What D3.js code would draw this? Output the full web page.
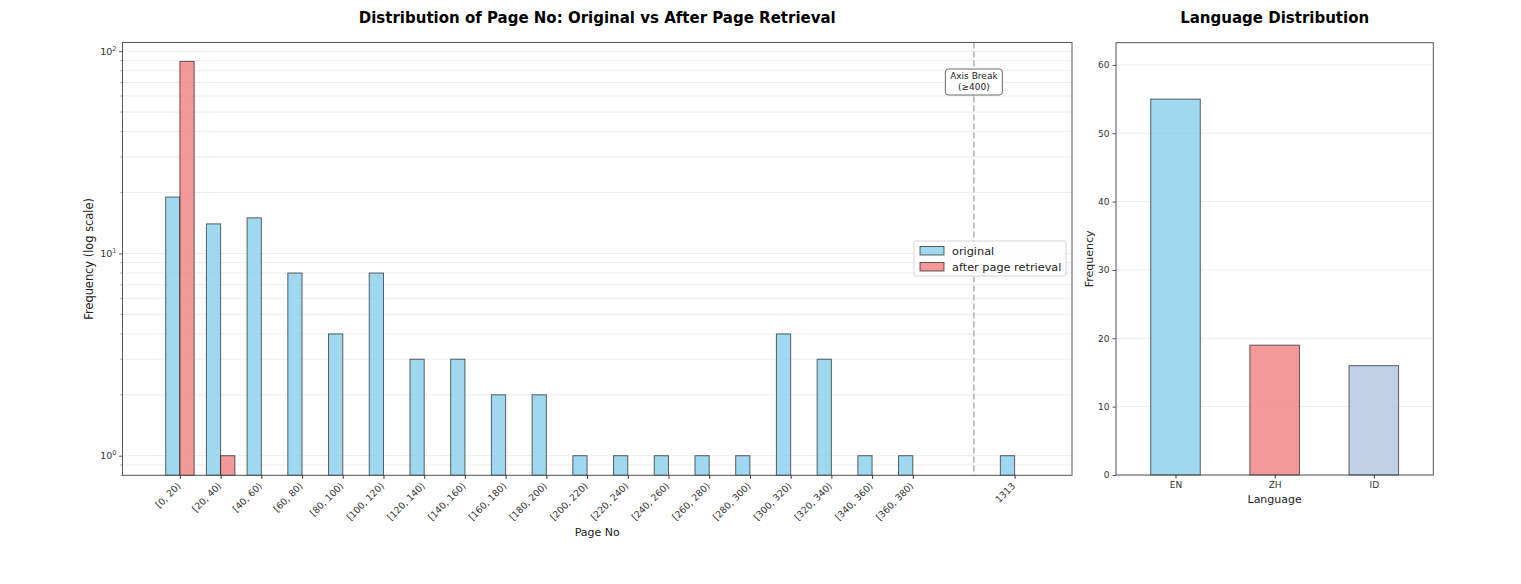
<!DOCTYPE html>
<html>
<head>
<meta charset="utf-8">
<script src="https://cdn.jsdelivr.net/npm/d3@7"></script>
<style>
  body { margin: 0; background: #fff; }
  svg { font-family: "DejaVu Sans", sans-serif; }
</style>
</head>
<body>
<script>
const pageBins = ["[0, 20)", "[20, 40)", "[40, 60)", "[60, 80)", "[80, 100)", "[100, 120)",
	"[120, 140)", "[140, 160)", "[160, 180)", "[180, 200)", "[200, 220)", "[220, 240)",
	"[240, 260)", "[260, 280)", "[280, 300)", "[300, 320)", "[320, 340)", "[340, 360)",
	"[360, 380)"];
const outlierBins = ["1313"];
const originalCounts = [19, 14, 15, 8, 4, 8, 3, 3, 2, 2, 1, 1, 1, 1, 1, 4, 3, 1, 1, 1];
const retrievalCounts = [89, 1, 0, 0, 0, 0, 0, 0, 0, 0, 0, 0, 0, 0, 0, 0, 0, 0, 0, 0];
const logTicks = [1, 10, 100];

const languages = ["EN", "ZH", "ID"];
const languageCounts = [55, 19, 16];
const languageTicks = [0, 10, 20, 30, 40, 50, 60];

const blue = "#87ceeb", red = "#f08080", steel = "#b0c4de";

const width = 1521, height = 584;

const svg = d3.select("body")
	.append("svg")
	.attr("width", width)
	.attr("height", height);

// ---------- left: page no histogram ----------
const L = {left: 122.5, right: 1072, top: 42.5, bottom: 475.3};

const allBins = pageBins.concat(outlierBins);
// outliers sit one slot past the axis break
const binX = allBins.map((b, i) => i < pageBins.length ? i : i + 1.5);
const breakX = pageBins.length + 0.5;
const barW = 0.35;

const x = d3.scaleLinear().domain([-1.41, 21.91]).range([L.left, L.right]);
const y = d3.scaleLog().domain([0.8, 110.4]).range([L.bottom, L.top]);

const left = svg.append("g");

// grid (major + minor)
const minor = [];
[0.1, 1, 10, 100].forEach(dec => {
	for (let k = 1; k < 10; k++) {
		const v = dec * k;
		if (v >= y.domain()[0] && v <= y.domain()[1]) minor.push(v);
	}
});

left.append("g")
	.selectAll("line")
	.data(minor)
	.enter()
	.append("line")
	.attr("x1", L.left).attr("x2", L.right)
	.attr("y1", d => y(d)).attr("y2", d => y(d))
	.attr("stroke", "#b0b0b0")
	.attr("stroke-opacity", 0.3)
	.attr("stroke-width", 0.8);

// break line
left.append("line")
	.attr("x1", x(breakX)).attr("x2", x(breakX))
	.attr("y1", L.top).attr("y2", L.bottom)
	.attr("stroke", "#b4b4b4")
	.attr("stroke-width", 1.6)
	.attr("stroke-dasharray", "6,3");

function drawBars(counts, offset, color) {
	left.append("g")
		.selectAll("rect")
		.data(counts.map((c, i) => ({c: c, i: i})).filter(d => d.c > 0))
		.enter()
		.append("rect")
		.attr("x", d => x(binX[d.i] + offset))
		.attr("width", x(barW) - x(0))
		.attr("y", d => y(d.c))
		.attr("height", d => L.bottom - y(d.c))
		.attr("fill", color)
		.attr("fill-opacity", 0.8)
		.attr("stroke", "#000")
		.attr("stroke-opacity", 0.6)
		.attr("stroke-width", 1);
}
drawBars(originalCounts, -barW, blue);
drawBars(retrievalCounts, 0, red);

// frame
left.append("rect")
	.attr("x", L.left).attr("y", L.top)
	.attr("width", L.right - L.left).attr("height", L.bottom - L.top)
	.attr("fill", "none")
	.attr("stroke", "#555")
	.attr("stroke-width", 1);

// y axis
const yAxis = d3.axisLeft(y).tickValues(logTicks).tickSize(3.5).tickFormat("");
const yG = left.append("g")
	.attr("transform", "translate(" + L.left + ",0)")
	.call(yAxis);
yG.select(".domain").remove();
yG.selectAll("line").attr("stroke", "#555");

left.append("g")
	.selectAll("line")
	.data(minor.filter(v => logTicks.indexOf(v) < 0))
	.enter()
	.append("line")
	.attr("x1", L.left - 2).attr("x2", L.left)
	.attr("y1", d => y(d)).attr("y2", d => y(d))
	.attr("stroke", "#555")
	.attr("stroke-width", 0.6);

const yLab = left.append("g")
	.selectAll("text")
	.data(logTicks)
	.enter()
	.append("text")
	.attr("x", L.left - 6)
	.attr("y", d => y(d) + 3.5)
	.attr("text-anchor", "end")
	.attr("font-size", 9.5)
	.attr("fill", "#333");
yLab.append("tspan").text("10");
yLab.append("tspan")
	.attr("dy", -4)
	.attr("font-size", 6.5)
	.text(d => Math.round(Math.log10(d)));

// x axis
const xAxis = d3.axisBottom(x).tickValues(binX).tickSize(3.5).tickFormat("");
const xG = left.append("g")
	.attr("transform", "translate(0," + L.bottom + ")")
	.call(xAxis);
xG.select(".domain").remove();
xG.selectAll("line").attr("stroke", "#333");

left.append("g")
	.selectAll("text")
	.data(allBins)
	.enter()
	.append("text")
	.attr("transform", (d, i) => "translate(" + (x(binX[i]) - 1) + "," + (L.bottom + 9) + ") rotate(-45)")
	.attr("text-anchor", "end")
	.attr("dy", "0.35em")
	.attr("font-size", 9.3)
	.attr("fill", "#333")
	.text(d => d);

left.append("text")
	.attr("x", (L.left + L.right) / 2)
	.attr("y", 536)
	.attr("text-anchor", "middle")
	.attr("font-size", 11)
	.attr("fill", "#222")
	.text("Page No");

left.append("text")
	.attr("transform", "translate(93," + (L.top + L.bottom) / 2 + ") rotate(-90)")
	.attr("text-anchor", "middle")
	.attr("font-size", 11.4)
	.attr("fill", "#222")
	.text("Frequency (log scale)");

left.append("text")
	.attr("x", (L.left + L.right) / 2)
	.attr("y", 23)
	.attr("text-anchor", "middle")
	.attr("font-size", 15)
	.attr("font-weight", "bold")
	.text("Distribution of Page No: Original vs After Page Retrieval");

// axis break annotation
const ann = left.append("g")
	.attr("transform", "translate(" + x(breakX) + ",82)");
ann.append("rect")
	.attr("x", -28.5).attr("y", -13)
	.attr("width", 57).attr("height", 26)
	.attr("rx", 3)
	.attr("fill", "#fff")
	.attr("stroke", "#444")
	.attr("stroke-width", 0.8);
ann.append("text")
	.attr("y", -3)
	.attr("text-anchor", "middle")
	.attr("font-size", 9)
	.attr("fill", "#222")
	.text("Axis Break");
ann.append("text")
	.attr("y", 8)
	.attr("text-anchor", "middle")
	.attr("font-size", 9)
	.attr("fill", "#222")
	.text("(≥400)");

// legend
const legendItems = [{name: "original", color: blue}, {name: "after page retrieval", color: red}];
const lg = left.append("g").attr("transform", "translate(914,241)");
lg.append("rect")
	.attr("width", 152).attr("height", 35)
	.attr("rx", 2)
	.attr("fill", "#fff")
	.attr("fill-opacity", 0.8)
	.attr("stroke", "#ccc")
	.attr("stroke-width", 0.8);
const li = lg.selectAll("g.item")
	.data(legendItems)
	.enter()
	.append("g")
	.attr("class", "item")
	.attr("transform", (d, i) => "translate(6," + (9.5 + i * 16) + ")");
li.append("rect")
	.attr("y", -4).attr("width", 24).attr("height", 8.5)
	.attr("fill", d => d.color)
	.attr("fill-opacity", 0.8)
	.attr("stroke", "#000")
	.attr("stroke-opacity", 0.6);
li.append("text")
	.attr("x", 32)
	.attr("y", 4)
	.attr("font-size", 11.3)
	.attr("fill", "#222")
	.text(d => d.name);

// ---------- right: language distribution ----------
const R = {left: 1116, right: 1433.3, top: 42.7, bottom: 475};
const right = svg.append("g");

const x2 = d3.scaleLinear().domain([-0.6, 2.6]).range([R.left, R.right]);
const y2 = d3.scaleLinear().domain([0, 63.25]).range([R.bottom, R.top]);

right.append("g")
	.selectAll("line")
	.data(languageTicks)
	.enter()
	.append("line")
	.attr("x1", R.left).attr("x2", R.right)
	.attr("y1", d => y2(d)).attr("y2", d => y2(d))
	.attr("stroke", "#b0b0b0")
	.attr("stroke-opacity", 0.3)
	.attr("stroke-width", 0.8);

right.append("g")
	.selectAll("rect")
	.data(languages)
	.enter()
	.append("rect")
	.attr("x", (d, i) => x2(i - 0.25))
	.attr("width", x2(0.5) - x2(0))
	.attr("y", (d, i) => y2(languageCounts[i]))
	.attr("height", (d, i) => R.bottom - y2(languageCounts[i]))
	.attr("fill", (d, i) => [blue, red, steel][i])
	.attr("fill-opacity", 0.8)
	.attr("stroke", "#000")
	.attr("stroke-opacity", 0.6)
	.attr("stroke-width", 1);

right.append("rect")
	.attr("x", R.left).attr("y", R.top)
	.attr("width", R.right - R.left).attr("height", R.bottom - R.top)
	.attr("fill", "none")
	.attr("stroke", "#555")
	.attr("stroke-width", 1);

const y2G = right.append("g")
	.attr("transform", "translate(" + R.left + ",0)")
	.call(d3.axisLeft(y2).tickValues(languageTicks).tickSize(3.5).tickPadding(3));
y2G.select(".domain").remove();
y2G.selectAll("line").attr("stroke", "#555");
y2G.selectAll("text")
	.attr("font-family", "DejaVu Sans")
	.attr("font-size", 9)
	.attr("fill", "#333");

const x2G = right.append("g")
	.attr("transform", "translate(0," + R.bottom + ")")
	.call(d3.axisBottom(x2).tickValues([0, 1, 2]).tickFormat(i => languages[i]).tickSize(3.5).tickPadding(3));
x2G.select(".domain").remove();
x2G.selectAll("line").attr("stroke", "#333");
x2G.selectAll("text")
	.attr("font-family", "DejaVu Sans")
	.attr("font-size", 9)
	.attr("fill", "#333");

right.append("text")
	.attr("x", (R.left + R.right) / 2)
	.attr("y", 503)
	.attr("text-anchor", "middle")
	.attr("font-size", 11)
	.attr("fill", "#222")
	.text("Language");

right.append("text")
	.attr("transform", "translate(1093," + (R.top + R.bottom) / 2 + ") rotate(-90)")
	.attr("text-anchor", "middle")
	.attr("font-size", 11)
	.attr("fill", "#222")
	.text("Frequency");

right.append("text")
	.attr("x", (R.left + R.right) / 2)
	.attr("y", 23)
	.attr("text-anchor", "middle")
	.attr("font-size", 15)
	.attr("font-weight", "bold")
	.text("Language Distribution");
</script>
</body>
</html>
